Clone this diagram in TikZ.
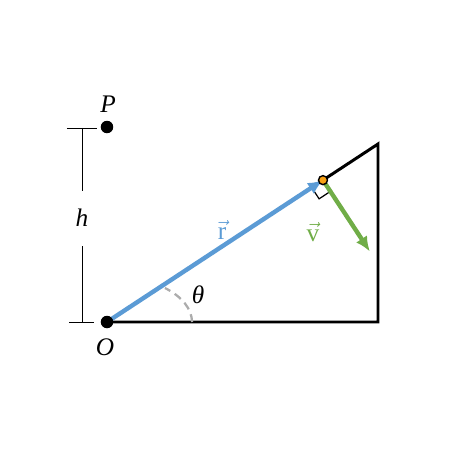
\documentclass[tikz,border=0pt]{standalone}
\usepackage{fontspec}
\setmainfont{Liberation Serif}
\usetikzlibrary{arrows.meta,calc}
\definecolor{rblue}{RGB}{91,155,213}
\definecolor{vgreen}{RGB}{112,173,71}
\definecolor{porange}{RGB}{247,160,20}
\begin{document}
\begin{tikzpicture}[
		dot/.style={circle, fill=black, inner sep=0pt, minimum size=0.25cm},
		bead/.style={circle, draw=black, fill=porange, line width=0.8pt, inner sep=0pt, minimum size=0.18cm},
		incline/.style={draw=black, line width=1.7pt},
		vec/.style={line width=2.5pt, -{Latex[length=0.3cm, width=0.26cm]}},
		bar/.style={draw=black, line width=0.5pt},
		lbl/.style={inner sep=1pt, font=\Large\itshape}
	]
		\useasboundingbox (-2.14,-2.56) rectangle (6.86,6.44);
		% incline
		\coordinate (O) at (0.00,0.00);
		\coordinate (C) at (5.42,0.00);
		\coordinate (T) at (5.42,3.56);
		\coordinate (M) at ($(O)!0.797!(T)$);
		\coordinate (Vend) at ($(M)!1.71cm!-90:(T)$);
		\draw[incline] (M) -- (T) -- (C) -- (O);
		% angle
		\draw[draw=gray!65, line width=1.3pt, dash pattern=on 4.5pt off 3pt] (1.70,0.00) arc[start angle=0, end angle=47, x radius=1.70, y radius=0.93];
		\node[lbl] (theta) at (1.82,0.54) {θ};
		% height bar
		\coordinate (Hb) at (-0.50,0.00);
		\coordinate (Ht) at (-0.50,3.88);
		\node[lbl] (h) at (-0.50,2.08) {h};
		\draw[bar] (Ht) -- (-0.50,2.62);
		\draw[bar] (-0.50,1.52) -- (Hb);
		\draw[bar] ($(Ht)+(-0.30,0)$) -- ($(Ht)+(0.30,0)$);
		\draw[bar] ($(Hb)+(-0.25,0)$) -- ($(Hb)+(0.25,0)$);
		% right angle
		\coordinate (Ra) at ($(M)!0.27cm!(O)$);
		\coordinate (Rb) at ($(M)!0.27cm!(Vend)$);
		\draw[draw=black, line width=0.7pt] (Ra) -- ($(Ra)+(Rb)-(M)$) -- (Rb);
		% vectors
		\draw[vec, draw=rblue, fill=rblue] (O) -- (M);
		\draw[vec, draw=vgreen, fill=vgreen] (M) -- (Vend);
		\node[lbl, text=rblue, font=\Large] (rlbl) at (2.30,1.84) {$\vec{\mbox{r}}$};
		\node[lbl, text=vgreen, font=\Large] (vlbl) at (4.12,1.80) {$\vec{\mbox{v}}$};
		% points
		\node[dot] (Odot) at (O) {};
		\node[dot] (P) at (0.00,3.90) {};
		\node[bead] (Mdot) at (M) {};
		\node[lbl] (Plbl) at (0.02,4.36) {P};
		\node[lbl] (Olbl) at (-0.04,-0.50) {O};
	\end{tikzpicture}
\end{document}
